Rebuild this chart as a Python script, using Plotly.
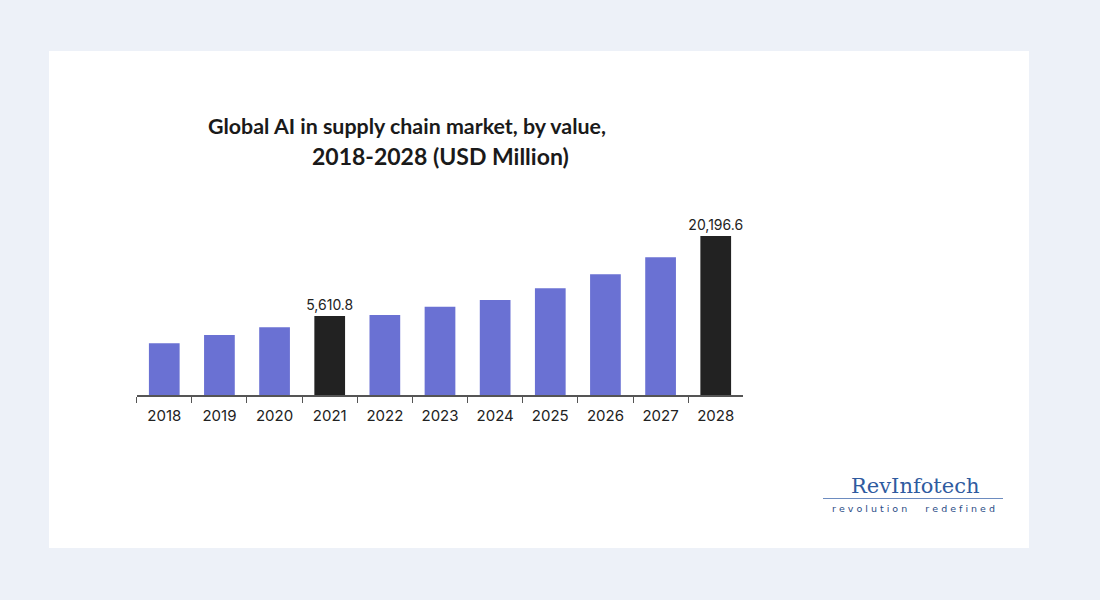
import plotly.graph_objects as go

years = ["2018", "2019", "2020", "2021", "2022", "2023", "2024", "2025", "2026", "2027", "2028"]
values = [633, 2147, 3550, 5610.8, 5793, 7306, 8528, 10661, 13214, 16313, 20196.6]
labels = ["", "", "", "5,610.8", "", "", "", "", "", "", "20,196.6"]
highlight = ["2021", "2028"]
axis_base = -8792.5  # the source chart's value axis does not start at zero

BLUE = "#6a71d3"
DARK = "#222222"
colors = [DARK if y in highlight else BLUE for y in years]

W, H = 1100, 600
def px_x(p): return p / W
def px_y(p): return 1 - p / H

FONT = "Inter, Lato, sans-serif"
TFONT = "Lato, Inter, sans-serif"

fig = go.Figure()
fig.add_trace(go.Bar(
    x=years, y=[v - axis_base for v in values], base=axis_base,
    marker=dict(color=colors, line=dict(width=0)),
    text=labels, textposition="outside", cliponaxis=False, constraintext="none",
    textfont=dict(family=FONT, size=14, color="#222222"),
    hoverinfo="skip",
))

y_top = axis_base + (395 - 216) * 182.32
fig.update_layout(
    width=W, height=H,
    margin=dict(l=0, r=0, t=0, b=0),
    paper_bgcolor="#edf1f8", plot_bgcolor="rgba(0,0,0,0)",
    showlegend=False, bargap=0.443,
    xaxis=dict(domain=[px_x(136.7), px_x(743.3)], type="category",
               showline=True, linecolor="#555555", linewidth=1.5,
               ticks="outside", tickson="boundaries", ticklen=6, tickcolor="#555555",
               ticklabelstandoff=6,
               tickfont=dict(family=FONT, size=15, color="#222222"),
               showgrid=False, zeroline=False, fixedrange=True),
    yaxis=dict(domain=[px_y(395), px_y(216)], range=[axis_base, y_top],
               visible=False, showgrid=False, zeroline=False, fixedrange=True),
    shapes=[dict(type="rect", xref="paper", yref="paper", layer="below",
                 x0=px_x(49), x1=px_x(1029), y0=px_y(548), y1=px_y(51),
                 fillcolor="#ffffff", line=dict(width=0)),
            dict(type="line", xref="paper", yref="paper",
                 x0=px_x(823), x1=px_x(1003), y0=px_y(498.5), y1=px_y(498.5),
                 line=dict(color="#6d8cc0", width=1))],
    annotations=[
        dict(text="<b>Global AI in supply chain market, by value,</b>", xref="paper", yref="paper",
             x=px_x(407), y=px_y(126), xanchor="center", yanchor="middle", showarrow=False,
             font=dict(family=TFONT, size=21.4, color="#1a1a1a")),
        dict(text="<b>2018-2028 (USD Million)</b>", xref="paper", yref="paper",
             x=px_x(440), y=px_y(156), xanchor="center", yanchor="middle", showarrow=False,
             font=dict(family=TFONT, size=23, color="#1a1a1a")),
        dict(text="RevInfotech", xref="paper", yref="paper",
             x=px_x(915), y=px_y(486), xanchor="center", yanchor="middle", showarrow=False,
             font=dict(family="DejaVu Serif, Liberation Serif, serif", size=21, color="#2f5b9f")),
        dict(text="r e v o l u t i o n &nbsp; &nbsp; &nbsp;r e d e f i n e d", xref="paper", yref="paper",
             x=px_x(913), y=px_y(508), xanchor="center", yanchor="middle", showarrow=False,
             font=dict(family="DejaVu Sans, sans-serif", size=9.5, color="#2b4c86")),
    ],
)

fig.write_html("out.html")
